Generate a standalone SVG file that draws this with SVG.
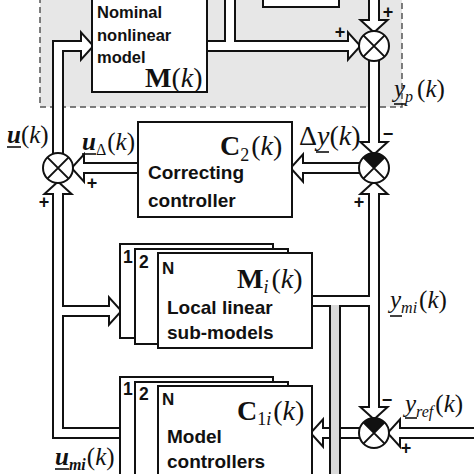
<svg xmlns="http://www.w3.org/2000/svg" width="474" height="474" viewBox="0 0 474 474">
<style>
.region{fill:#e7e7e7;stroke:#555;stroke-width:1.5;stroke-dasharray:6 4}
.box{fill:#fff;stroke:#111;stroke-width:2}
.po{fill:none;stroke:#111;stroke-width:12;stroke-linejoin:miter}
.pi{fill:none;stroke:#fff;stroke-width:8;stroke-linejoin:miter}
.ho{fill:#111;stroke:#111;stroke-width:4;stroke-linejoin:miter}
.hi{fill:#fff;stroke:none}
.sum{fill:#fff;stroke:#111;stroke-width:2}
.x{stroke:#111;stroke-width:2;fill:none}
.q{fill:#111}
.gp{fill:#d9d9d9}
.gl{stroke:#111;stroke-width:2}
.lbl{font-family:"Liberation Sans",Arial,sans-serif;font-weight:bold;fill:#111}
.m{font-family:"Liberation Serif","Times New Roman",serif;fill:#111}
.sg{font-family:"Liberation Sans",Arial,sans-serif;font-weight:bold;font-size:18px;fill:#111;text-anchor:middle}
.ul{stroke:#111;stroke-width:1.6}
.b{font-weight:bold}
.i{font-style:italic}
</style>
<defs>
<path id="p1" d="M374,46 V146"/>
<path id="p2" d="M374,168 H299"/>
<path id="p3" d="M145,168 H80"/>
<path id="p4" d="M58,168 V46 H85"/>
<path id="p5" d="M200,46 H352"/>
<path id="p6" d="M230,46 V-6"/>
<path id="p7" d="M374,-6 V24"/>
<path id="p9" d="M305,301 H374"/>
<path id="p10" d="M374,190 V411"/>
<path id="p11" d="M480,433 H396"/>
<path id="p12" d="M374,433 H319"/>
<path id="p13" d="M125,433 H58 V190"/>
<path id="p14" d="M58,311 H113"/>
<polygon id="h1" points="363,143 385,143 374,153"/>
<polygon id="h2" points="302,157 302,179 292,168"/>
<polygon id="h3" points="83,157 83,179 73,168"/>
<polygon id="h4" points="82,35 82,57 92,46"/>
<polygon id="h5" points="349,35 349,57 359,46"/>
<polygon id="h7" points="363,21 385,21 374,31"/>
<polygon id="h10a" points="363,193 385,193 374,183"/>
<polygon id="h10b" points="363,408 385,408 374,418"/>
<polygon id="h11" points="399,422 399,444 389,433"/>
<polygon id="h12" points="322,422 322,444 312,433"/>
<polygon id="h13" points="47,193 69,193 58,183"/>
<polygon id="h14" points="110,300 110,322 120,311"/>
</defs>
<rect x="0" y="0" width="474" height="474" fill="#fff"/>
<rect class="region" x="40" y="-5" width="362" height="112"/>

<g id="connectors">
<g id="pipe-outer">
<use href="#p1" class="po"/><use href="#p2" class="po"/><use href="#p3" class="po"/><use href="#p4" class="po"/>
<use href="#p5" class="po"/><use href="#p6" class="po"/><use href="#p7" class="po"/><use href="#p9" class="po"/>
<use href="#p10" class="po"/><use href="#p11" class="po"/><use href="#p12" class="po"/><use href="#p13" class="po"/>
<use href="#p14" class="po"/>
<use href="#h1" class="ho"/><use href="#h2" class="ho"/><use href="#h3" class="ho"/><use href="#h4" class="ho"/>
<use href="#h5" class="ho"/><use href="#h7" class="ho"/><use href="#h10a" class="ho"/><use href="#h10b" class="ho"/>
<use href="#h11" class="ho"/><use href="#h12" class="ho"/><use href="#h13" class="ho"/><use href="#h14" class="ho"/>
</g>
<g id="pipe-inner">
<use href="#p1" class="pi"/><use href="#p2" class="pi"/><use href="#p3" class="pi"/><use href="#p4" class="pi"/>
<use href="#p5" class="pi"/><use href="#p6" class="pi"/><use href="#p7" class="pi"/><use href="#p9" class="pi"/>
<use href="#p10" class="pi"/><use href="#p11" class="pi"/><use href="#p12" class="pi"/><use href="#p13" class="pi"/>
<use href="#p14" class="pi"/>
<use href="#h1" class="hi"/><use href="#h2" class="hi"/><use href="#h3" class="hi"/><use href="#h4" class="hi"/>
<use href="#h5" class="hi"/><use href="#h7" class="hi"/><use href="#h10a" class="hi"/><use href="#h10b" class="hi"/>
<use href="#h11" class="hi"/><use href="#h12" class="hi"/><use href="#h13" class="hi"/><use href="#h14" class="hi"/>
</g>
<g id="gray-pipe">
<rect class="gp" x="331" y="305" width="8" height="175"/>
<line class="gl" x1="330" y1="305" x2="330" y2="480"/>
<line class="gl" x1="340" y1="305" x2="340" y2="480"/>
</g>
</g>

<g id="sum-top">
<circle class="sum" cx="374" cy="46" r="15"/>
<path class="x" d="M363.4,35.4 L384.6,56.6 M384.6,35.4 L363.4,56.6"/>
<text class="sg" x="388" y="18">+</text>
<text class="sg" x="340" y="38">+</text>
</g>
<g id="sum-left">
<circle class="sum" cx="58" cy="168" r="15"/>
<path class="x" d="M47.4,157.4 L68.6,178.6 M68.6,157.4 L47.4,178.6"/>
<text class="sg" x="92" y="189">+</text>
<text class="sg" x="44" y="208">+</text>
</g>
<g id="sum-dy">
<circle class="sum" cx="374" cy="168" r="15"/>
<path class="q" d="M374,168 L363.4,157.4 A15,15 0 0 1 384.6,157.4 Z"/>
<path class="x" d="M363.4,157.4 L384.6,178.6 M384.6,157.4 L363.4,178.6"/>
<text class="sg" x="388" y="140">−</text>
<text class="sg" x="359" y="208">+</text>
</g>
<g id="sum-bottom">
<circle class="sum" cx="374" cy="433" r="15"/>
<path class="q" d="M374,433 L363.4,422.4 A15,15 0 0 1 384.6,422.4 Z"/>
<path class="x" d="M363.4,422.4 L384.6,443.6 M384.6,422.4 L363.4,443.6"/>
<text class="sg" x="387" y="406">−</text>
<text class="sg" x="406" y="454">+</text>
</g>

<g id="top-box">
<rect class="box" x="263" y="-5" width="76" height="12"/>
</g>
<g id="nominal-model">
<rect class="box" x="92" y="-5" width="115" height="97"/>
<text class="lbl" font-size="16.5"><tspan x="97" y="18">Nominal</tspan><tspan x="97" y="41">nonlinear</tspan><tspan x="97" y="63">model</tspan></text>
<text class="m" x="145" y="87" font-size="28"><tspan class="b">M</tspan>(<tspan class="i">k</tspan>)</text>
</g>
<g id="correcting-controller">
<rect class="box" x="138" y="122" width="154" height="95"/>
<text class="m" x="220" y="155" font-size="28"><tspan class="b">C</tspan><tspan font-size="18" dy="6">2</tspan><tspan dx="2" dy="-6">(</tspan><tspan class="i">k</tspan>)</text>
<text class="lbl" font-size="19"><tspan x="148" y="179">Correcting</tspan><tspan x="148" y="207">controller</tspan></text>
</g>
<g id="local-submodels">
<rect class="box" x="120" y="244" width="153" height="94"/>
<rect class="box" x="135" y="249" width="153" height="95"/>
<rect class="box" x="158" y="253" width="154" height="95"/>
<text class="lbl" font-size="17.5" x="123" y="263">1</text>
<text class="lbl" font-size="17.5" x="139" y="268">2</text>
<text class="lbl" font-size="17" x="162" y="274">N</text>
<text class="m" x="237" y="288" font-size="28"><tspan class="b">M</tspan><tspan class="i" font-size="18" dy="5">i</tspan><tspan dx="3" dy="-5">(</tspan><tspan class="i">k</tspan>)</text>
<text class="lbl" font-size="19"><tspan x="167" y="314">Local linear</tspan><tspan x="167" y="339">sub-models</tspan></text>
</g>
<g id="model-controllers">
<rect class="box" x="120" y="377" width="153" height="110"/>
<rect class="box" x="135" y="382" width="153" height="110"/>
<rect class="box" x="158" y="386" width="154" height="110"/>
<text class="lbl" font-size="17.5" x="123" y="395">1</text>
<text class="lbl" font-size="17.5" x="139" y="400">2</text>
<text class="lbl" font-size="17" x="162" y="405">N</text>
<text class="m" x="237" y="420" font-size="28"><tspan class="b">C</tspan><tspan font-size="18" dy="5">1</tspan><tspan class="i" font-size="18">i</tspan><tspan dx="2" dy="-5">(</tspan><tspan class="i">k</tspan>)</text>
<text class="lbl" font-size="19"><tspan x="167" y="443">Model</tspan><tspan x="167" y="468">controllers</tspan></text>
</g>

<g id="signal-labels">
<text class="m" x="7" y="143" font-size="25"><tspan class="b i">u</tspan>(<tspan class="i">k</tspan>)</text>
<line class="ul" x1="7" y1="147" x2="21" y2="147"/>
<text class="m" x="82" y="150" font-size="25"><tspan class="b i">u</tspan><tspan font-size="16" dy="5">Δ</tspan><tspan dx="1" dy="-5">(</tspan><tspan class="i">k</tspan>)</text>
<line class="ul" x1="82" y1="154" x2="96" y2="154"/>
<text class="m" x="299" y="145" font-size="28">Δ<tspan class="i">y</tspan>(<tspan class="i">k</tspan>)</text>
<line class="ul" x1="316" y1="152" x2="329" y2="152"/>
<text class="m" x="394" y="97" font-size="25"><tspan class="i">y</tspan><tspan class="i" font-size="16" dy="5">p</tspan><tspan dx="4" dy="-5">(</tspan><tspan class="i">k</tspan>)</text>
<line class="ul" x1="394" y1="104" x2="406" y2="104"/>
<text class="m" x="390" y="308" font-size="25"><tspan class="i">y</tspan><tspan class="i" font-size="16" dy="5">mi</tspan><tspan dx="2" dy="-5">(</tspan><tspan class="i">k</tspan>)</text>
<line class="ul" x1="390" y1="316" x2="402" y2="316"/>
<text class="m" x="405" y="412" font-size="25"><tspan class="i">y</tspan><tspan class="i" font-size="16" dy="5">ref</tspan><tspan dx="2" dy="-5">(</tspan><tspan class="i">k</tspan>)</text>
<line class="ul" x1="405" y1="418" x2="417" y2="418"/>
<text class="m" x="55" y="465" font-size="25"><tspan class="b i">u</tspan><tspan class="b i" font-size="16" dy="5">mi</tspan><tspan dx="1" dy="-5">(</tspan><tspan class="i">k</tspan>)</text>
<line class="ul" x1="55" y1="469" x2="69" y2="469"/>
</g>
</svg>
